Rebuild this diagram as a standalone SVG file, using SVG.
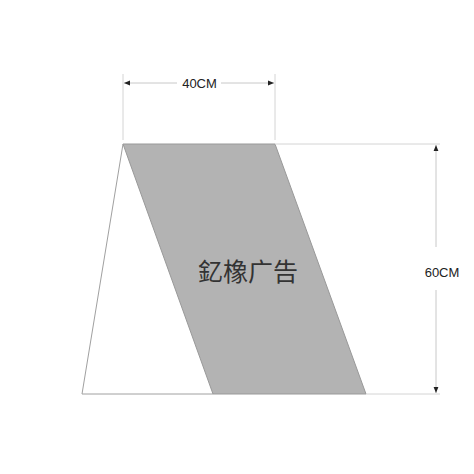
<svg xmlns="http://www.w3.org/2000/svg" width="474" height="474" viewBox="0 0 474 474">
<defs>
<style>
.ext{stroke:#d4d4d4;stroke-width:1;fill:none}
.dim{stroke:#c8c8c8;stroke-width:1;fill:none}
.lbl{font-family:"Liberation Sans",Arial,sans-serif;font-size:13px;fill:#222;text-anchor:middle}
.cn{font-family:"Noto Sans CJK SC",sans-serif;font-size:25px;fill:#333;text-anchor:middle}
</style>
<marker id="ah" viewBox="0 0 10 10" refX="10" refY="5" markerWidth="8" markerHeight="6" orient="auto-start-reverse" markerUnits="userSpaceOnUse">
<path d="M0,1 L10,5 L0,9 z" fill="#222"/>
</marker>
</defs>
<rect width="474" height="474" fill="#fff"/>
<g id="shape">
<path d="M123,144 L82,394 L213,394" fill="none" stroke="#a0a0a0" stroke-width="1"/>
<polygon points="123,144 275,144 366,394 213,394" fill="#b3b3b3" stroke="#999" stroke-width="1"/>
<text class="cn" x="248" y="281">釔橡广告</text>
</g>
<g id="connectors">
<line class="ext" x1="123" y1="74" x2="123" y2="140"/>
<line class="ext" x1="275" y1="74" x2="275" y2="140"/>
<line class="ext" x1="275" y1="144" x2="440" y2="144"/>
<line class="ext" x1="366" y1="394" x2="440" y2="394"/>
<line class="dim" x1="177" y1="83" x2="124" y2="83" marker-end="url(#ah)"/>
<line class="dim" x1="221" y1="83" x2="274" y2="83" marker-end="url(#ah)"/>
<line class="dim" x1="436" y1="247" x2="436" y2="145" marker-end="url(#ah)"/>
<line class="dim" x1="436" y1="290" x2="436" y2="393" marker-end="url(#ah)"/>
</g>
<g id="labels">
<text class="lbl" x="199.5" y="88">40CM</text>
<text class="lbl" x="442" y="276.5">60CM</text>
</g>
</svg>
